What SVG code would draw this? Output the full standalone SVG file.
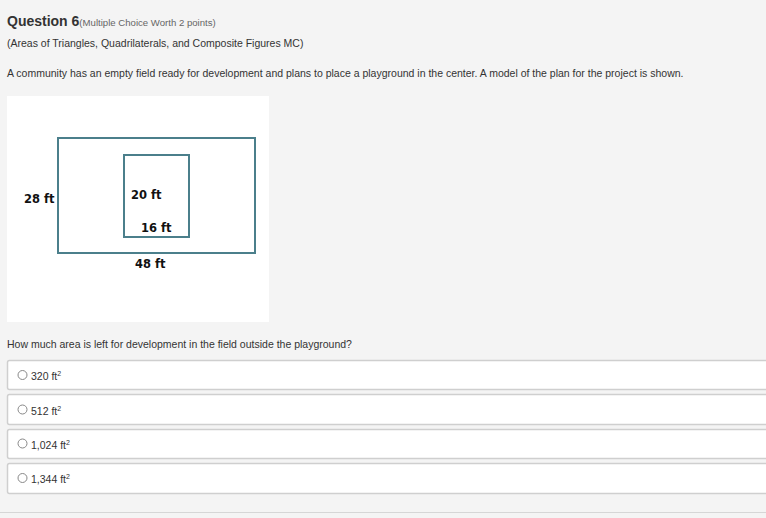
<svg xmlns="http://www.w3.org/2000/svg" width="766" height="518" viewBox="0 0 766 518">
<style>
.t{font-family:"Liberation Sans",Arial,sans-serif;fill:#333}
.lbl{font-family:"DejaVu Sans",Verdana,sans-serif;font-weight:bold;font-size:11.5px;fill:#111}
.opt{fill:#fff;stroke:#cfcfcf;stroke-width:1.5}
.radio{fill:#fff;stroke:#888;stroke-width:1}
.shape{fill:none;stroke:#4b7f8b;stroke-width:2}
</style>
<rect width="766" height="518" fill="#f4f4f4"/>
<g id="header">
<text class="t" x="7" y="26" font-size="14" font-weight="bold">Question 6<tspan font-size="9.6" font-weight="normal" fill="#666">(Multiple Choice Worth 2 points)</tspan></text>
<text class="t" x="7" y="47" font-size="10.5">(Areas of Triangles, Quadrilaterals, and Composite Figures MC)</text>
<text class="t" x="7" y="77" font-size="10.5">A community has an empty field ready for development and plans to place a playground in the center. A model of the plan for the project is shown.</text>
</g>
<g id="figure">
<rect x="7" y="96" width="262" height="226" fill="#fff"/>
<rect id="field" class="shape" x="58" y="138" width="197" height="115"/>
<rect id="playground" class="shape" x="124" y="155" width="65" height="82"/>
<text class="lbl" x="24" y="203">28 ft</text>
<text class="lbl" x="131" y="199">20 ft</text>
<text class="lbl" x="141" y="232">16 ft</text>
<text class="lbl" x="135" y="268">48 ft</text>
</g>
<g id="question">
<text class="t" x="7" y="348" font-size="10.5">How much area is left for development in the field outside the playground?</text>
</g>
<g id="opt1">
<rect class="opt" x="7.5" y="360.5" width="770" height="29" rx="2"/>
<circle class="radio" cx="22.5" cy="375" r="4.5"/>
<text class="t" x="31" y="380" font-size="10.5">320 ft<tspan font-size="7" dy="-4">2</tspan></text>
</g>
<g id="opt2">
<rect class="opt" x="7.5" y="394.5" width="770" height="30" rx="2"/>
<circle class="radio" cx="22.5" cy="409.5" r="4.5"/>
<text class="t" x="31" y="414.5" font-size="10.5">512 ft<tspan font-size="7" dy="-4">2</tspan></text>
</g>
<g id="opt3">
<rect class="opt" x="7.5" y="429.5" width="770" height="29" rx="2"/>
<circle class="radio" cx="22.5" cy="443.5" r="4.5"/>
<text class="t" x="31" y="448.5" font-size="10.5">1,024 ft<tspan font-size="7" dy="-4">2</tspan></text>
</g>
<g id="opt4">
<rect class="opt" x="7.5" y="463.5" width="770" height="30" rx="2"/>
<circle class="radio" cx="22.5" cy="478" r="4.5"/>
<text class="t" x="31" y="483" font-size="10.5">1,344 ft<tspan font-size="7" dy="-4">2</tspan></text>
</g>
<line x1="0" y1="512.5" x2="766" y2="512.5" stroke="#d6d6d6" stroke-width="1"/>
</svg>
